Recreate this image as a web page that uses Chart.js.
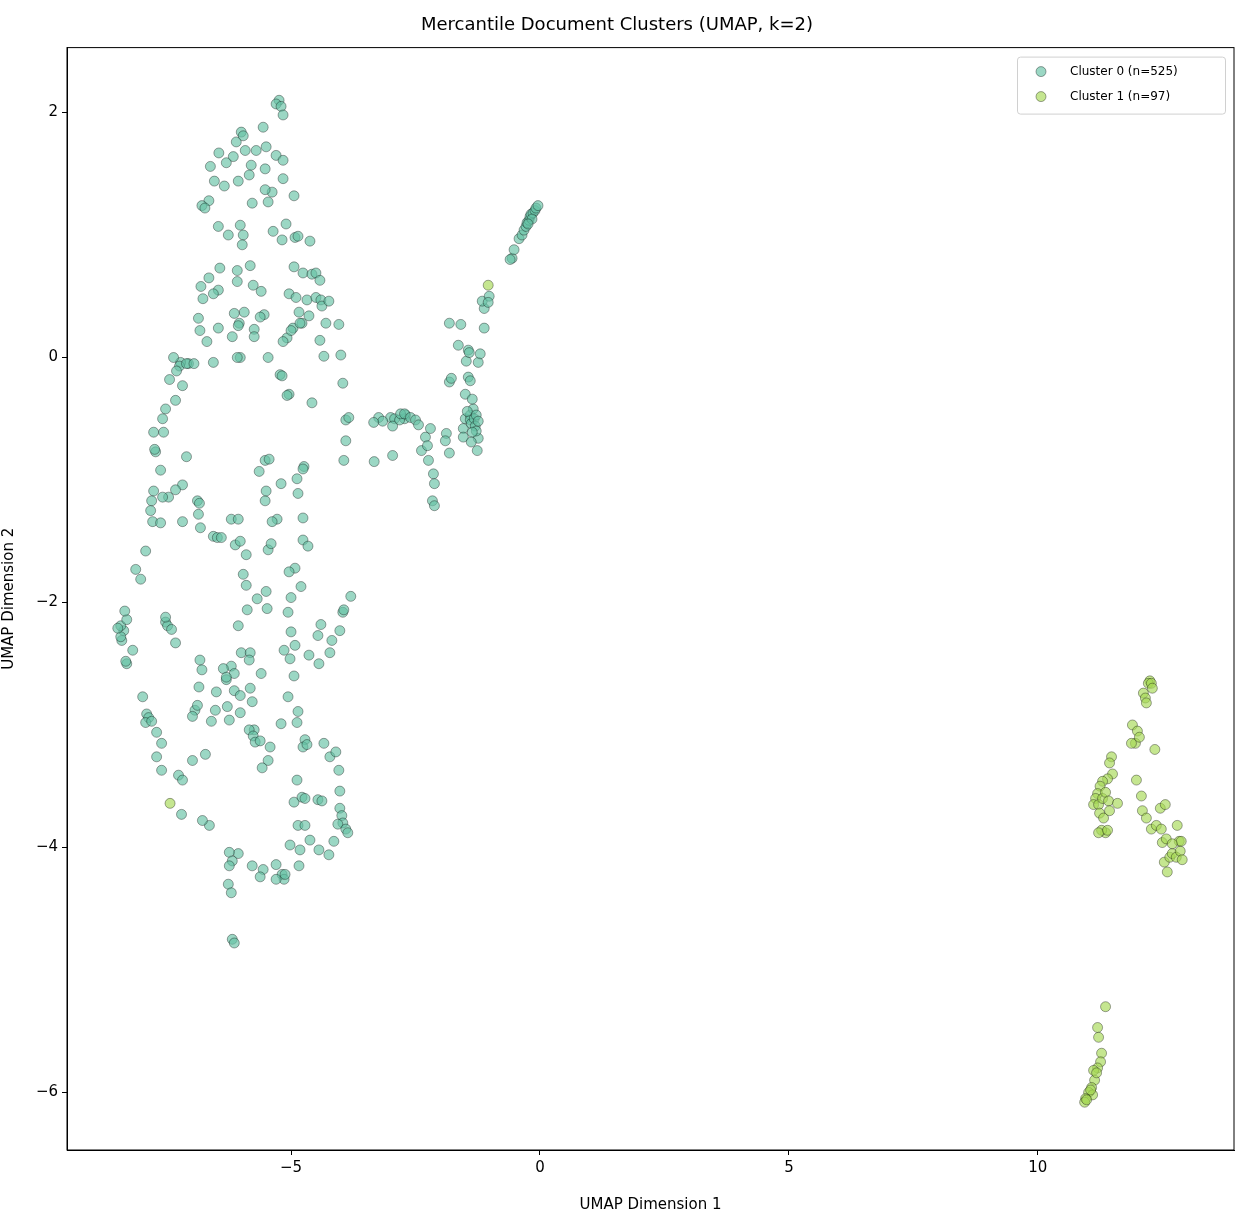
<!DOCTYPE html>
<html>
<head>
<meta charset="utf-8">
<script src="https://cdn.jsdelivr.net/npm/chart.js@4"></script>
<style>
  html, body { margin: 0; padding: 0; background: #fff; }
  #wrap { width: 1249px; height: 1228px; }
</style>
</head>
<body>
<div id="wrap"><canvas id="grafico"></canvas></div>
<script>
// valores (coordenadas UMAP)
const cluster0 = [
  [-5.24,2.10],[-5.30,2.07],[-5.20,2.05],[-5.16,1.98],[-5.56,1.88],[-6.00,1.84],[-6.10,1.76],[-5.96,1.81],[-5.92,1.69],[-5.70,1.69],
  [-5.50,1.72],[-5.30,1.65],[-5.16,1.61],[-5.80,1.57],[-6.16,1.64],[-6.30,1.59],[-6.45,1.67],[-6.62,1.56],[-6.54,1.44],[-6.34,1.40],
  [-6.65,1.28],[-6.79,1.24],[-6.73,1.22],[-6.06,1.44],[-5.84,1.49],[-5.52,1.54],[-5.38,1.35],[-5.52,1.37],[-5.16,1.46],[-4.94,1.32],
  [-5.46,1.27],[-5.78,1.26],[-6.02,1.08],[-5.96,1.00],[-6.26,1.00],[-6.46,1.07],[-5.36,1.03],[-5.10,1.09],[-4.92,0.98],[-4.86,0.99],
  [-5.18,0.96],[-4.62,0.95],[-5.98,0.92],[-5.82,0.75],[-6.08,0.71],[-6.08,0.62],[-6.65,0.65],[-6.81,0.58],[-6.46,0.55],[-6.56,0.52],
  [-6.77,0.48],[-6.43,0.73],[-5.76,0.59],[-5.60,0.54],[-4.94,0.74],[-4.76,0.69],[-4.58,0.68],[-4.50,0.69],[-4.42,0.63],[-5.04,0.52],
  [-4.90,0.49],[-4.84,0.37],[-4.96,0.24],[-5.08,0.16],[-5.16,0.13],[-4.68,0.47],[-4.64,0.34],[-4.50,0.49],[-4.40,0.47],[-4.38,0.42],
  [-4.30,0.28],[-4.24,0.46],[-4.04,0.27],[-4.78,0.28],[-4.42,0.14],[-5.54,0.35],[-5.94,0.37],[-6.14,0.36],[-6.04,0.28],[-6.18,0.17],
  [-6.06,0.26],[-6.46,0.24],[-6.86,0.32],[-6.83,0.22],[-6.69,0.13],[-6.02,0.00],[-6.08,0.00],[-5.46,0.00],[-5.22,-0.14],[-5.18,-0.15],
  [-5.04,-0.30],[-5.08,-0.31],[-4.58,-0.37],[-3.96,-0.21],[-4.00,0.02],[-4.34,0.01],[-4.82,0.28],[-5.00,0.22],[-5.74,0.23],[-5.74,0.17],
  [-5.62,0.33],[-6.56,-0.04],[-7.06,-0.05],[-7.22,-0.04],[-7.36,0.00],[-7.24,-0.07],[-7.10,-0.05],[-6.95,-0.05],[-7.30,-0.11],[-7.44,-0.18],
  [-7.52,-0.42],[-7.58,-0.50],[-7.56,-0.61],[-7.76,-0.61],[-7.72,-0.77],[-7.74,-0.75],[-7.18,-0.23],[-7.32,-0.35],[-7.62,-0.92],[-7.10,-0.81],
  [-7.18,-1.04],[-7.32,-1.08],[-7.46,-1.14],[-7.58,-1.14],[-7.76,-1.09],[-7.80,-1.17],[-7.82,-1.25],[-7.78,-1.34],[-7.62,-1.35],[-7.18,-1.34],
  [-6.88,-1.17],[-6.84,-1.19],[-6.86,-1.28],[-6.82,-1.39],[-6.56,-1.46],[-6.48,-1.47],[-6.40,-1.47],[-6.20,-1.32],[-6.12,-1.53],[-6.02,-1.50],
  [-5.90,-1.61],[-5.46,-1.57],[-5.40,-1.52],[-5.52,-0.84],[-5.44,-0.83],[-6.06,-1.32],[-5.28,-1.32],[-5.38,-1.34],[-5.52,-1.17],[-5.50,-1.09],
  [-5.64,-0.93],[-5.20,-1.03],[-4.88,-0.99],[-4.74,-0.89],[-4.76,-0.91],[-4.86,-1.11],[-4.76,-1.31],[-4.76,-1.49],[-4.66,-1.54],[-4.92,-1.72],
  [-5.04,-1.75],[-4.80,-1.87],[-5.00,-1.96],[-5.50,-1.91],[-5.48,-2.05],[-5.68,-1.97],[-5.90,-1.86],[-5.96,-1.77],[-5.88,-2.06],[-6.06,-2.19],
  [-6.00,-2.41],[-5.82,-2.41],[-5.84,-2.47],[-6.20,-2.52],[-6.14,-2.58],[-6.30,-2.63],[-6.14,-2.72],[-6.02,-2.76],[-5.82,-2.70],[-5.78,-2.81],
  [-6.02,-2.90],[-5.60,-2.58],[-5.74,-3.04],[-5.84,-3.04],[-5.76,-3.09],[-5.72,-3.14],[-5.42,-3.18],[-5.62,-3.13],[-5.46,-3.29],[-5.58,-3.35],
  [-5.20,-2.99],[-5.06,-2.77],[-4.94,-2.60],[-5.02,-2.46],[-5.14,-2.39],[-4.92,-2.35],[-5.00,-2.24],[-5.06,-2.08],[-4.46,-2.27],[-4.40,-2.18],
  [-4.18,-2.31],[-4.22,-2.41],[-4.02,-2.23],[-3.96,-2.08],[-3.94,-2.06],[-3.80,-1.95],[-4.64,-2.43],[-4.44,-2.50],[-4.86,-2.89],[-4.88,-2.98],
  [-4.72,-3.12],[-4.76,-3.18],[-4.68,-3.16],[-4.22,-3.26],[-4.10,-3.22],[-4.34,-3.15],[-4.04,-3.37],[-4.88,-3.45],[-4.94,-3.63],[-4.78,-3.59],
  [-4.72,-3.60],[-4.86,-3.82],[-4.46,-3.61],[-4.38,-3.62],[-4.02,-3.54],[-4.02,-3.68],[-3.98,-3.74],[-3.96,-3.80],[-4.06,-3.81],[-3.90,-3.85],
  [-3.86,-3.88],[-4.14,-3.95],[-4.24,-4.06],[-4.44,-4.02],[-4.62,-3.94],[-4.72,-3.82],[-4.82,-4.02],[-4.84,-4.15],[-5.02,-3.98],[-5.18,-4.22],
  [-5.14,-4.26],[-5.30,-4.14],[-5.30,-4.26],[-5.12,-4.22],[-5.56,-4.18],[-5.62,-4.24],[-5.78,-4.15],[-6.06,-4.05],[-6.24,-4.04],[-6.18,-4.11],
  [-6.24,-4.15],[-6.26,-4.30],[-6.20,-4.37],[-6.18,-4.75],[-6.14,-4.78],[-6.64,-3.82],[-6.78,-3.78],[-7.20,-3.73],[-7.26,-3.41],[-7.60,-3.37],
  [-7.70,-3.26],[-7.60,-3.15],[-7.70,-3.06],[-7.90,-2.91],[-7.86,-2.94],[-7.98,-2.77],[-7.92,-2.98],[-7.80,-2.97],[-8.18,-2.39],[-8.36,-2.23],
  [-8.40,-2.31],[-8.42,-2.28],[-8.30,-2.50],[-8.32,-2.48],[-8.42,-2.19],[-8.48,-2.21],[-8.30,-2.14],[-8.34,-2.07],[-8.12,-1.73],[-8.02,-1.81],
  [-7.92,-1.58],[-7.52,-2.16],[-7.48,-2.19],[-7.40,-2.22],[-7.32,-2.33],[-7.52,-2.12],[-6.83,-2.47],[-6.79,-2.55],[-6.85,-2.69],[-6.93,-2.88],
  [-6.98,-2.93],[-6.88,-2.84],[-6.60,-2.97],[-6.52,-2.88],[-6.50,-2.73],[-6.28,-2.85],[-6.24,-2.96],[-6.72,-3.24],[-6.98,-3.29],[-7.18,-3.45],
  [-6.36,-2.54],[-6.30,-2.61],
  [-3.90,-0.51],[-3.94,-0.84],[-3.90,-0.68],[-3.84,-0.49],[-3.00,-0.49],[-3.24,-0.49],[-3.16,-0.52],[-2.92,-0.50],[-2.70,-0.47],[-2.96,-0.80],
  [-2.72,-0.50],[-3.34,-0.53],[-3.33,-0.85],[-2.82,-0.51],[-2.96,-0.56],[-2.80,-0.46],[-2.72,-0.46],[-2.60,-0.49],[-2.50,-0.51],[-2.44,-0.55],
  [-2.38,-0.76],[-2.30,-0.65],[-2.26,-0.72],[-2.20,-0.58],[-2.24,-0.84],[-2.14,-0.95],[-2.12,-1.03],[-2.16,-1.17],[-2.12,-1.21],[-1.88,-0.62],
  [-1.90,-0.68],[-1.82,-0.78],[-1.82,-0.20],[-1.78,-0.17],[-1.64,0.10],[-1.59,0.27],[-1.82,0.28],[-1.50,-0.30],[-1.48,-0.03],[-1.44,-0.16],
  [-1.54,-0.58],[-1.54,-0.65],[-1.50,-0.50],[-1.40,-0.47],[-1.40,-0.51],[-1.34,-0.42],[-1.46,-0.44],[-1.38,-0.54],[-1.32,-0.50],[-1.30,-0.56],
  [-1.28,-0.47],[-1.24,-0.66],[-1.26,-0.76],[-1.28,-0.60],[-1.36,-0.61],[-1.38,-0.69],[-1.24,-0.52],[-1.36,-0.34],[-1.40,-0.19],[-1.24,-0.04],
  [-1.44,0.06],[-1.42,0.04],[-1.12,0.24],[-1.20,0.03],[-1.12,0.40],[-1.16,0.46],[-1.02,0.50],[-1.04,0.45],[-0.56,0.81],[-0.52,0.88],
  [-0.42,0.97],[-0.36,1.00],[-0.32,1.04],[-0.28,1.07],[-0.26,1.10],[-0.22,1.12],[-0.20,1.15],[-0.18,1.17],[-0.14,1.18],[-0.10,1.20],
  [-0.08,1.22],[-0.04,1.24],[-0.16,1.13],[-0.24,1.09],[-0.60,0.80]
];
const cluster1 = [
  [-1.04,0.59],[-7.43,-3.64],
  [12.25,-2.64],[12.22,-2.66],[12.28,-2.66],[12.30,-2.70],[12.12,-2.74],[12.16,-2.78],[12.18,-2.82],[12.35,-3.20],
  [11.90,-3.00],[12.00,-3.05],[11.96,-3.15],[12.04,-3.10],[11.88,-3.15],[11.98,-3.45],[11.48,-3.26],[11.44,-3.31],[11.50,-3.40],[11.40,-3.44],
  [11.30,-3.46],[11.25,-3.50],[11.20,-3.56],[11.16,-3.60],[11.12,-3.65],[11.22,-3.65],[11.30,-3.60],[11.36,-3.55],[11.42,-3.62],[11.24,-3.72],
  [11.32,-3.76],[11.36,-3.88],[11.28,-3.86],[11.22,-3.88],[11.40,-3.86],[11.44,-3.70],[11.60,-3.64],[12.08,-3.58],[12.10,-3.70],[12.18,-3.76],
  [12.28,-3.85],[12.38,-3.82],[12.48,-3.85],[12.46,-3.68],[12.56,-3.65],[12.50,-3.96],[12.58,-3.93],[12.54,-4.12],[12.60,-4.20],[12.65,-4.08],
  [12.70,-4.05],[12.78,-4.08],[12.84,-3.95],[12.88,-3.95],[12.80,-3.82],[12.86,-4.03],[12.90,-4.10],[12.70,-3.97],
  [11.36,-5.30],[11.20,-5.47],[11.22,-5.55],[11.28,-5.68],[11.26,-5.75],[11.20,-5.80],[11.12,-5.82],[11.14,-5.90],[11.08,-5.96],[11.02,-6.00],
  [11.10,-6.02],[10.96,-6.05],[10.94,-6.08],[10.98,-6.06],[11.06,-5.98],[11.18,-5.84]
];
const rotulos = ['Cluster 0 (n=525)', 'Cluster 1 (n=97)'];
const ticksX = [-5, 0, 5, 10];
const ticksY = [-6, -4, -2, 0, 2];
const limitesX = [-9.5, 13.94];
const limitesY = [-6.47, 2.53];

const fonte = "'DejaVu Sans', sans-serif";
const paraPontos = arr => arr.map(p => ({ x: p[0], y: p[1] }));

// moldura completa e legenda no canto superior direito
const moldura = {
  id: 'moldura',
  afterDraw(chart) {
    const { ctx, chartArea: a } = chart;
    ctx.save();
    ctx.strokeStyle = '#000';
    ctx.lineWidth = 1;
    ctx.strokeRect(a.left, a.top, a.right - a.left, a.bottom - a.top);
    // legenda
    const w = 208, h = 57, x0 = a.right - 9 - w, y0 = a.top + 9;
    ctx.fillStyle = 'rgba(255,255,255,0.8)';
    ctx.strokeStyle = '#d0d0d0';
    ctx.beginPath();
    ctx.roundRect(x0 + 0.5, y0 + 0.5, w, h, 3);
    ctx.fill(); ctx.stroke();
    ctx.font = '12px ' + fonte;
    ctx.textBaseline = 'middle';
    chart.data.datasets.forEach((ds, i) => {
      const cy = y0 + 15 + i * 25;
      ctx.beginPath();
      ctx.arc(x0 + 24, cy, 5, 0, Math.PI * 2);
      ctx.fillStyle = ds.backgroundColor; ctx.fill();
      ctx.strokeStyle = ds.borderColor; ctx.lineWidth = 0.5; ctx.stroke();
      ctx.fillStyle = '#000';
      ctx.fillText(ds.label, x0 + 53, cy);
    });
    ctx.restore();
  }
};

new Chart(document.getElementById('grafico'), {
  type: 'scatter',
  data: {
    datasets: [
      { label: rotulos[0], data: paraPontos(cluster0), backgroundColor: 'rgba(102,194,165,0.65)',
        borderColor: 'rgba(0,0,0,0.7)', borderWidth: 0.5, pointRadius: 5 },
      { label: rotulos[1], data: paraPontos(cluster1), backgroundColor: 'rgba(166,216,84,0.65)',
        borderColor: 'rgba(0,0,0,0.7)', borderWidth: 0.5, pointRadius: 5 }
    ]
  },
  plugins: [moldura],
  options: {
    responsive: true,
    maintainAspectRatio: false,
    animation: false,
    layout: { padding: { top: 0, right: 15, left: 0, bottom: 0 } },
    plugins: {
      title: { display: true, text: 'Mercantile Document Clusters (UMAP, k=2)', color: '#000',
        font: { family: fonte, size: 18, weight: 'normal' }, padding: { top: 15, bottom: 11 } },
      legend: { display: false },
      tooltip: { enabled: false }
    },
    scales: {
      x: {
        min: limitesX[0], max: limitesX[1],
        afterBuildTicks: s => { s.ticks = ticksX.map(v => ({ value: v })); },
        afterFit: s => { s.height = 78; },
        grid: { drawOnChartArea: false, tickLength: 5, color: '#000' },
        border: { color: '#000' },
        ticks: { color: '#000', font: { family: fonte, size: 15 }, padding: 4,
          callback: v => (v < 0 ? '\u2212' + Math.abs(v) : v) },
        title: { display: true, text: 'UMAP Dimension 1', color: '#000', font: { family: fonte, size: 15 },
          padding: { top: 4, bottom: 14 } }
      },
      y: {
        min: limitesY[0], max: limitesY[1],
        afterBuildTicks: s => { s.ticks = ticksY.map(v => ({ value: v })); },
        afterFit: s => { s.width = 67; },
        grid: { drawOnChartArea: false, tickLength: 5, color: '#000' },
        border: { color: '#000' },
        ticks: { color: '#000', font: { family: fonte, size: 15 }, padding: 4,
          callback: v => (v < 0 ? '\u2212' + Math.abs(v) : v) },
        title: { display: true, text: 'UMAP Dimension 2', color: '#000', font: { family: fonte, size: 15 }, padding: 0 }
      }
    }
  }
});
</script>
</body>
</html>
